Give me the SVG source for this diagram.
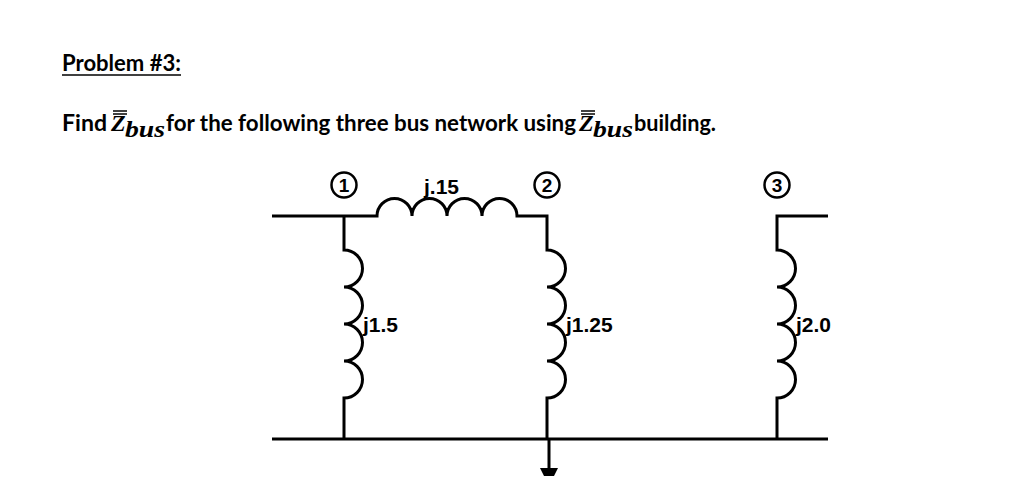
<svg xmlns="http://www.w3.org/2000/svg" width="1024" height="504" viewBox="0 0 1024 504">
<style>
.w{fill:none;stroke:#000;stroke-width:3}
.t{font-family:Lato,"Liberation Sans",sans-serif;font-weight:bold;font-size:22px}
.m{font-family:"Liberation Serif",serif;font-style:italic;font-weight:bold;font-size:24px}
.l{font-family:"Liberation Sans",Arial,sans-serif;font-weight:bold;font-size:21px}
.d{font-family:"Liberation Sans",Arial,sans-serif;font-weight:bold;font-size:19px}
.c{fill:#fff;stroke:#000;stroke-width:2.5}
</style>
<rect width="1024" height="504" fill="#fff"/>
<text class="t" x="62" y="71" textLength="119" lengthAdjust="spacingAndGlyphs">Problem #3:</text>
<line x1="62" y1="75" x2="181" y2="75" stroke="#000" stroke-width="1.5"/>
<text class="t" x="62" y="131" textLength="45" lengthAdjust="spacingAndGlyphs">Find</text>
<text class="m" x="111" y="131">Z</text>
<text class="m" x="125" y="137" textLength="40" lengthAdjust="spacingAndGlyphs">bus</text>
<text class="t" x="166" y="131" textLength="410" lengthAdjust="spacingAndGlyphs">for the following three bus network using</text>
<text class="m" x="579" y="131">Z</text>
<text class="m" x="593" y="137" textLength="40" lengthAdjust="spacingAndGlyphs">bus</text>
<text class="t" x="634" y="131" textLength="82" lengthAdjust="spacingAndGlyphs">building.</text>
<g stroke="#000" stroke-width="1.5">
<line x1="113" y1="111" x2="127" y2="111"/><line x1="113" y1="114" x2="127" y2="114"/>
<line x1="581" y1="111" x2="595" y2="111"/><line x1="581" y1="114" x2="595" y2="114"/>
</g>
<g id="connectors">
<path class="w" d="M272 216H377 a17.5 17.5 0 0 1 35 0 a17.5 17.5 0 0 1 35 0 a17.5 17.5 0 0 1 35 0 a17.5 17.5 0 0 1 35 0 H547 V250 a18.5 18.5 0 0 1 0 37 a18.5 18.5 0 0 1 0 37 a18.5 18.5 0 0 1 0 37 a18.5 18.5 0 0 1 0 37 V439"/>
<path class="w" d="M344 216V250 a18.5 18.5 0 0 1 0 37 a18.5 18.5 0 0 1 0 37 a18.5 18.5 0 0 1 0 37 a18.5 18.5 0 0 1 0 37 V439"/>
<path class="w" d="M828 216H777V250 a18.5 18.5 0 0 1 0 37 a18.5 18.5 0 0 1 0 37 a18.5 18.5 0 0 1 0 37 a18.5 18.5 0 0 1 0 37 V439"/>
<line class="w" x1="272" y1="439" x2="828" y2="439"/>
<line class="w" x1="549" y1="439" x2="549" y2="472"/>
<path d="M540 468H558L554 476H544Z" fill="#000"/>
</g>
<g id="n1"><circle class="c" cx="344" cy="185" r="12.5"/><text class="d" x="344" y="192" text-anchor="middle">1</text></g>
<g id="n2"><circle class="c" cx="547" cy="185" r="12.5"/><text class="d" x="547" y="192" text-anchor="middle">2</text></g>
<g id="n3"><circle class="c" cx="777" cy="185" r="12.5"/><text class="d" x="777" y="192" text-anchor="middle">3</text></g>
<text class="l" x="424" y="194">j.15</text>
<text class="l" x="363" y="332">j1.5</text>
<text class="l" x="566" y="332">j1.25</text>
<text class="l" x="796" y="332">j2.0</text>
</svg>
